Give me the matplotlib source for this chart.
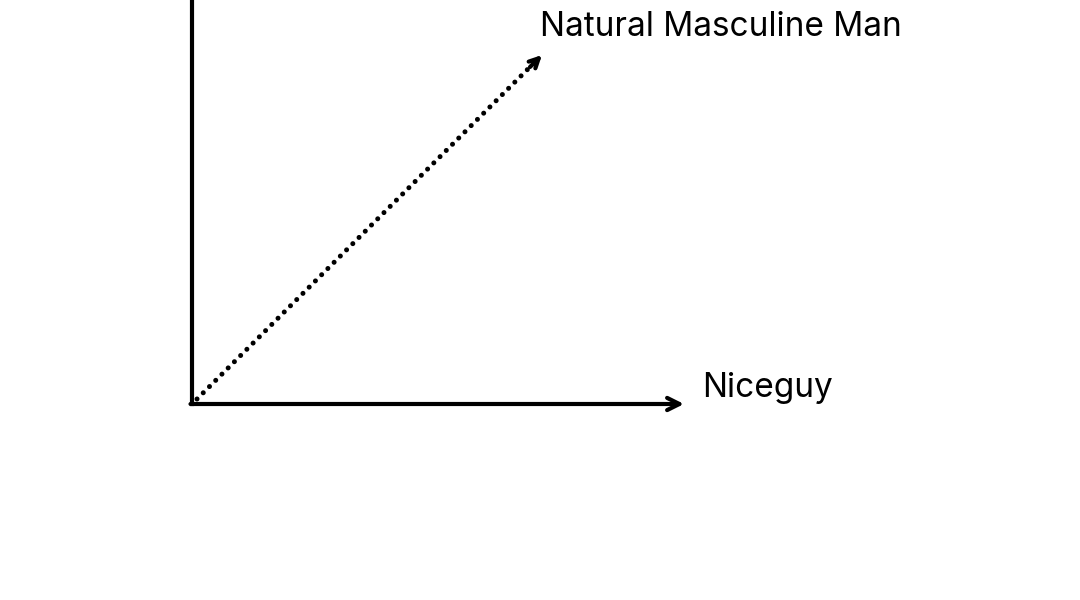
import matplotlib.pyplot as plt

# diagram in abstract units (1 unit ~ 100 px), origin at the corner of the axes
origin = (0.0, 0.0)
niceguy_end = (4.92, 0.0)
vertical_top = (0.0, 4.1)
natural_start = (0.05, 0.05)
natural_end = (3.5, 3.49)

labels = ["Natural Masculine Man", "Niceguy"]
label_pos = [(3.48, 3.77), (5.10, 0.16)]

fig = plt.figure(figsize=(10.8, 6), dpi=100)
ax = fig.add_axes([0, 0, 1, 1])
ax.set_xlim(-1.92, 8.88)
ax.set_ylim(-1.96, 4.04)
ax.axis("off")

# vertical axis line, runs off the top
ax.plot([origin[0], vertical_top[0]], [origin[1], vertical_top[1]],
        color="black", lw=3, solid_capstyle="projecting")

# horizontal arrow
ax.annotate("", xy=niceguy_end, xytext=(origin[0] - 0.015, origin[1]),
            arrowprops=dict(arrowstyle="->", color="black", lw=3,
                            mutation_scale=22, shrinkA=0, shrinkB=0))

# dotted diagonal shaft with round dots, then a solid head
ax.plot([natural_start[0], natural_end[0] - 0.04],
        [natural_start[1], natural_end[1] - 0.04],
        color="black", lw=3.6, linestyle=(0, (0.01, 1.75)),
        dash_capstyle="round")
head_from = (natural_end[0] - 0.12, natural_end[1] - 0.12)
ax.annotate("", xy=natural_end, xytext=head_from,
            arrowprops=dict(arrowstyle="->", color="black", lw=3,
                            mutation_scale=17, shrinkA=0, shrinkB=0))

for text, (x, y) in zip(labels, label_pos):
    ax.text(x, y, text, fontsize=24, family="Inter", color="black",
            ha="left", va="center")

fig.savefig("out.png", dpi=100, facecolor="white")
